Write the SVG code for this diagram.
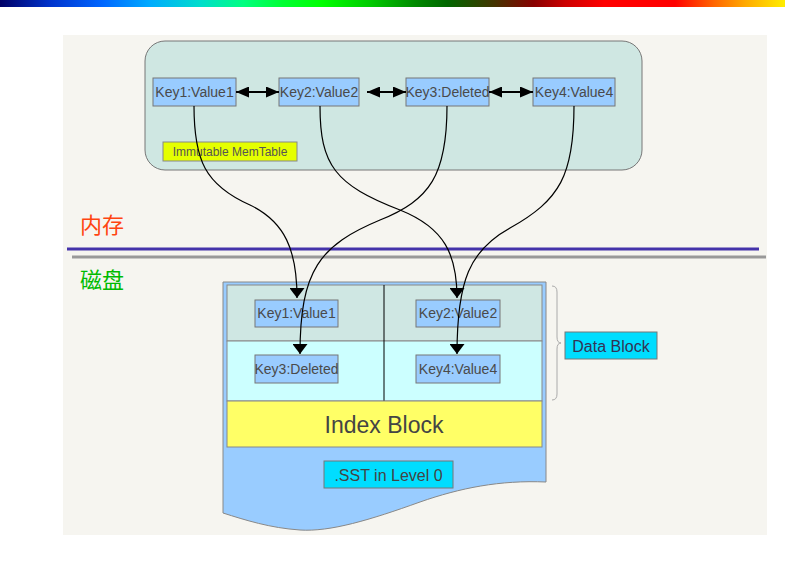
<svg xmlns="http://www.w3.org/2000/svg" width="785" height="565" viewBox="0 0 785 565">
<defs>
<linearGradient id="rainbow" x1="0" y1="0" x2="1" y2="0">
<stop offset="0" stop-color="#000066"/>
<stop offset="0.064" stop-color="#0033cc"/>
<stop offset="0.13" stop-color="#0066ff"/>
<stop offset="0.19" stop-color="#00aaff"/>
<stop offset="0.255" stop-color="#00ddcc"/>
<stop offset="0.31" stop-color="#00ff80"/>
<stop offset="0.36" stop-color="#00ff33"/>
<stop offset="0.41" stop-color="#00ff00"/>
<stop offset="0.47" stop-color="#00cc00"/>
<stop offset="0.53" stop-color="#008800"/>
<stop offset="0.57" stop-color="#006600"/>
<stop offset="0.63" stop-color="#443300"/>
<stop offset="0.68" stop-color="#880000"/>
<stop offset="0.72" stop-color="#cc0000"/>
<stop offset="0.77" stop-color="#ff0000"/>
<stop offset="0.86" stop-color="#ff0000"/>
<stop offset="0.91" stop-color="#ff6600"/>
<stop offset="0.95" stop-color="#ffaa00"/>
<stop offset="1" stop-color="#ffee00"/>
</linearGradient>
<marker id="ah" viewBox="0 0 10 15" refX="10" refY="7.5" markerWidth="10" markerHeight="15" markerUnits="userSpaceOnUse" orient="auto">
<path d="M0,0 L10,7.5 L0,15 Z" fill="#000"/>
</marker>
<marker id="dh" viewBox="0 0 13 11" refX="13" refY="5.5" markerWidth="13" markerHeight="11" markerUnits="userSpaceOnUse" orient="auto-start-reverse">
<path d="M0,0 L13,5.5 L0,11 Z" fill="#000"/>
</marker>
</defs>
<style>
.key{fill:#99ccff;stroke:#777;stroke-width:1}
.kt{font-family:"Liberation Sans",Arial,sans-serif;font-size:14px;fill:#4a4a4a;text-anchor:middle}
.lbl{fill:#00ddff;stroke:#777;stroke-width:1}
.cjk{font-family:"Noto Sans CJK SC",sans-serif;font-size:22px}
.conn{fill:none;stroke:#000;stroke-width:1.2;marker-end:url(#ah)}
.dbl{fill:none;stroke:#000;stroke-width:2;marker-start:url(#dh);marker-end:url(#dh)}
</style>
<rect x="0" y="0" width="785" height="7" fill="url(#rainbow)"/>
<rect x="63" y="35" width="704" height="500" fill="#f6f5f0"/>

<g id="memtable">
<rect x="145" y="41" width="497" height="129" rx="20" ry="20" fill="#cfe7e2" stroke="#777" stroke-width="1"/>
</g>
<g id="mem-key1"><rect class="key" x="153" y="78" width="83" height="28"/><text class="kt" x="194.5" y="97">Key1:Value1</text></g>
<g id="mem-key2"><rect class="key" x="279" y="78" width="80" height="28"/><text class="kt" x="319" y="97">Key2:Value2</text></g>
<g id="mem-key3"><rect class="key" x="406" y="78" width="83" height="28"/><text class="kt" x="447.5" y="97">Key3:Deleted</text></g>
<g id="mem-key4"><rect class="key" x="533" y="78" width="82" height="28"/><text class="kt" x="574" y="97">Key4:Value4</text></g>
<g id="immutable-label">
<rect x="163" y="142" width="134" height="19" fill="#e5ff00" stroke="#888" stroke-width="1"/>
<text x="230" y="156" font-family="Liberation Sans,Arial,sans-serif" font-size="12" fill="#555" text-anchor="middle">Immutable MemTable</text>
</g>

<g id="mem-label"><text class="cjk" x="80" y="233" fill="#ff4411">内存</text></g>
<g id="dividers">
<line x1="67" y1="249" x2="759" y2="249" stroke="#4433aa" stroke-width="3"/>
<line x1="72" y1="257" x2="766" y2="257" stroke="#999" stroke-width="3"/>
</g>
<g id="disk-label"><text class="cjk" x="80" y="288" fill="#00bb00">磁盘</text></g>

<g id="sst">
<path d="M223,282 H546 V482 C500,480 460,488 420,502 C370,520 330,532 300,530 C270,528 245,520 223,513 Z" fill="#99ccff" stroke="#888" stroke-width="1"/>
<rect x="227" y="285" width="315" height="56" fill="#cfe7e3" stroke="#888" stroke-width="1"/>
<rect x="227" y="341" width="315" height="60" fill="#ccffff" stroke="#888" stroke-width="1"/>
<line x1="384" y1="285" x2="384" y2="401" stroke="#000" stroke-width="1"/>
</g>
<g id="sst-key1"><rect class="key" x="255" y="300" width="83" height="27"/><text class="kt" x="296.5" y="318">Key1:Value1</text></g>
<g id="sst-key2"><rect class="key" x="416" y="300" width="84" height="27"/><text class="kt" x="458" y="318">Key2:Value2</text></g>
<g id="sst-key3"><rect class="key" x="255" y="355" width="83" height="28"/><text class="kt" x="296.5" y="374">Key3:Deleted</text></g>
<g id="sst-key4"><rect class="key" x="416" y="355" width="84" height="28"/><text class="kt" x="458" y="374">Key4:Value4</text></g>
<g id="index-block">
<rect x="227" y="401" width="315" height="46" fill="#ffff66" stroke="#888" stroke-width="1"/>
<text x="384" y="433" font-family="Liberation Sans,Arial,sans-serif" font-size="23" fill="#444" text-anchor="middle">Index Block</text>
</g>
<g id="sst-label">
<rect class="lbl" x="324" y="461" width="129" height="27"/>
<text x="388.5" y="481" font-family="Liberation Sans,Arial,sans-serif" font-size="16" fill="#444" text-anchor="middle">.SST in Level 0</text>
</g>
<g id="brace">
<path d="M552,286 q5,0 5,6 v45 q0,6 4,6 q-4,0 -4,6 v45 q0,6 -5,6" fill="none" stroke="#aaa" stroke-width="1"/>
</g>
<g id="data-block-label">
<rect class="lbl" x="565" y="332" width="92" height="27"/>
<text x="611" y="352" font-family="Liberation Sans,Arial,sans-serif" font-size="16" fill="#335" text-anchor="middle">Data Block</text>
</g>

<g id="connectors">
<line class="dbl" x1="236" y1="92" x2="279" y2="92"/>
<line class="dbl" x1="367" y1="92" x2="406" y2="92"/>
<line class="dbl" x1="489" y1="92" x2="533" y2="92"/>
<path class="conn" d="M194,106 C194,160 205,185 250,205 C285,222 297,250 297,298"/>
<path class="conn" d="M320,106 C320,165 335,185 400,210 C445,228 457,255 457,298"/>
<path class="conn" d="M447,106 C447,175 430,200 380,220 C320,245 300,270 300,354"/>
<path class="conn" d="M574,106 C574,175 560,200 510,228 C470,250 457,280 457,354"/>
</g>
</svg>
